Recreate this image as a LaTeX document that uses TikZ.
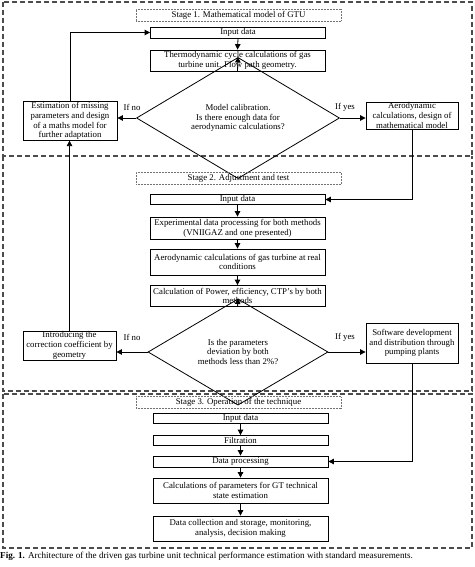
\documentclass[tikz,border=0pt]{standalone}
\usepackage{fontspec}
\setmainfont{Liberation Serif}
\usetikzlibrary{shapes.geometric,arrows.meta}
\begin{document}
\begin{tikzpicture}[x=1pt,y=-1pt,
  font=\fontsize{8.8}{9.8}\selectfont,
  box/.style={draw=black,line width=0.8pt,align=center,inner sep=0.5pt,minimum width=175pt},
  dia/.style={draw=black,line width=0.8pt,diamond,align=center,inner sep=0pt},
  stagebox/.style={draw=black!70,line width=1.3pt,dash pattern=on 5pt off 3pt},
  titlebox/.style={draw=black!55,line width=0.5pt,densely dotted,minimum width=205pt,minimum height=12pt,inner sep=0pt},
  arr/.style={line width=0.8pt,-{Triangle[length=5.5pt,width=5.5pt]}},
  lab/.style={inner sep=0pt}]
\useasboundingbox (0,0) rectangle (474,567);
% stage frames
\draw[stagebox] (3,2) rectangle (472,156);
\draw[stagebox] (3,156) -- (3,391) -- (472,391) -- (472,156);
\draw[stagebox] (3,394) rectangle (472,548);
% Stage 1
\node[titlebox] (t1) at (238.5,15) {Stage 1. Mathematical model of GTU};
\node[box,minimum height=11pt] (in1) at (238,32.5) {Input data};
\node[box,minimum height=21pt] (thermo) at (237.5,60.5) {Thermodynamic cycle calculations of gas\\turbine unit. Flow path geometry.};
\node[dia,minimum width=203pt,minimum height=70pt] (d1) at (238,118) {Model calibration.\\Is there enough data for\\aerodynamic calculations?};
\node[box,minimum width=94pt,minimum height=38pt] (est) at (70,121) {Estimation of missing\\parameters and design\\of a maths model for\\further adaptation};
\node[box,minimum width=92pt,minimum height=27pt] (aero) at (412,115.5) {Aerodynamic\\calculations, design of\\mathematical model};
\node[lab] (no1) at (132,107) {If no};
\node[lab] (yes1) at (345,107) {If yes};
\draw[arr] (in1.south) -- (thermo.north);
\draw[arr] (thermo.south) -- (d1.north);
\draw[arr] (d1.west) -- (est.east |- d1.west);
\draw[arr] (d1.east) -- (aero.west |- d1.east);
\draw[arr] (est.north) -- (est.north |- in1.west) -- (in1.west);
% Stage 2
\node[titlebox] (t2) at (238.5,178) {Stage 2. Adjustment and test};
\node[box,minimum height=10pt] (in2) at (237.5,199.5) {Input data};
\node[box,minimum height=22pt] (exp) at (237.5,228) {Experimental data processing for both methods\\(VNIIGAZ and one presented)};
\node[box,minimum height=26pt] (aerc) at (237.5,262) {Aerodynamic calculations of gas turbine at real\\conditions};
\node[box,minimum height=21pt] (pow) at (237.5,296) {Calculation of Power, efficiency, CTP's by both\\methods};
\node[dia,minimum width=180pt,minimum height=69pt] (d2) at (238,352) {Is the parameters\\deviation by both\\methods less than 2\%?};
\node[box,minimum width=93pt,minimum height=29pt] (intro) at (69.5,345.5) {Introducing the\\correction coefficient by\\geometry};
\node[box,minimum width=92pt,minimum height=40pt] (soft) at (412,343) {Software development\\and distribution through\\pumping plants};
\node[lab] (no2) at (132,337) {If no};
\node[lab] (yes2) at (345,337) {If yes};
\draw[arr] (aero.south) |- (in2.east);
\draw[arr] (in2.south) -- (exp.north);
\draw[arr] (exp.south) -- (aerc.north);
\draw[arr] (aerc.south) -- (pow.north);
\draw[arr] (pow.south) -- (d2.north);
\draw[arr] (d2.west) -- (intro.east |- d2.west);
\draw[arr] (d2.east) -- (soft.west |- d2.east);
\draw[arr] (intro.north) -- (intro.north |- est.south);
% Stage 3
\node[titlebox] (t3) at (238.5,402.5) {Stage 3. Operation of the technique};
\node[box,minimum height=10pt] (in3) at (240.5,418) {Input data};
\node[box,minimum height=10pt] (filt) at (240.5,440.5) {Filtration};
\node[box,minimum height=11pt] (dp) at (240.5,461.5) {Data processing};
\node[box,minimum height=25pt] (calc) at (240.5,490.5) {Calculations of parameters for GT technical\\state estimation};
\node[box,minimum height=25pt] (coll) at (240.5,528.5) {Data collection and storage, monitoring,\\analysis, decision making};
\draw[arr] (soft.south) |- (dp.east);
\draw[arr] (in3.south) -- (filt.north);
\draw[arr] (filt.south) -- (dp.north);
\draw[arr] (dp.south) -- (calc.north);
\draw[arr] (calc.south) -- (coll.north);
% caption
\node[anchor=west,inner sep=0pt,font=\fontsize{9.1}{10}\selectfont] (cap) at (0,556) {\textbf{Fig. 1.} Architecture of the driven gas turbine unit technical performance estimation with standard measurements.};
\end{tikzpicture}
\end{document}
